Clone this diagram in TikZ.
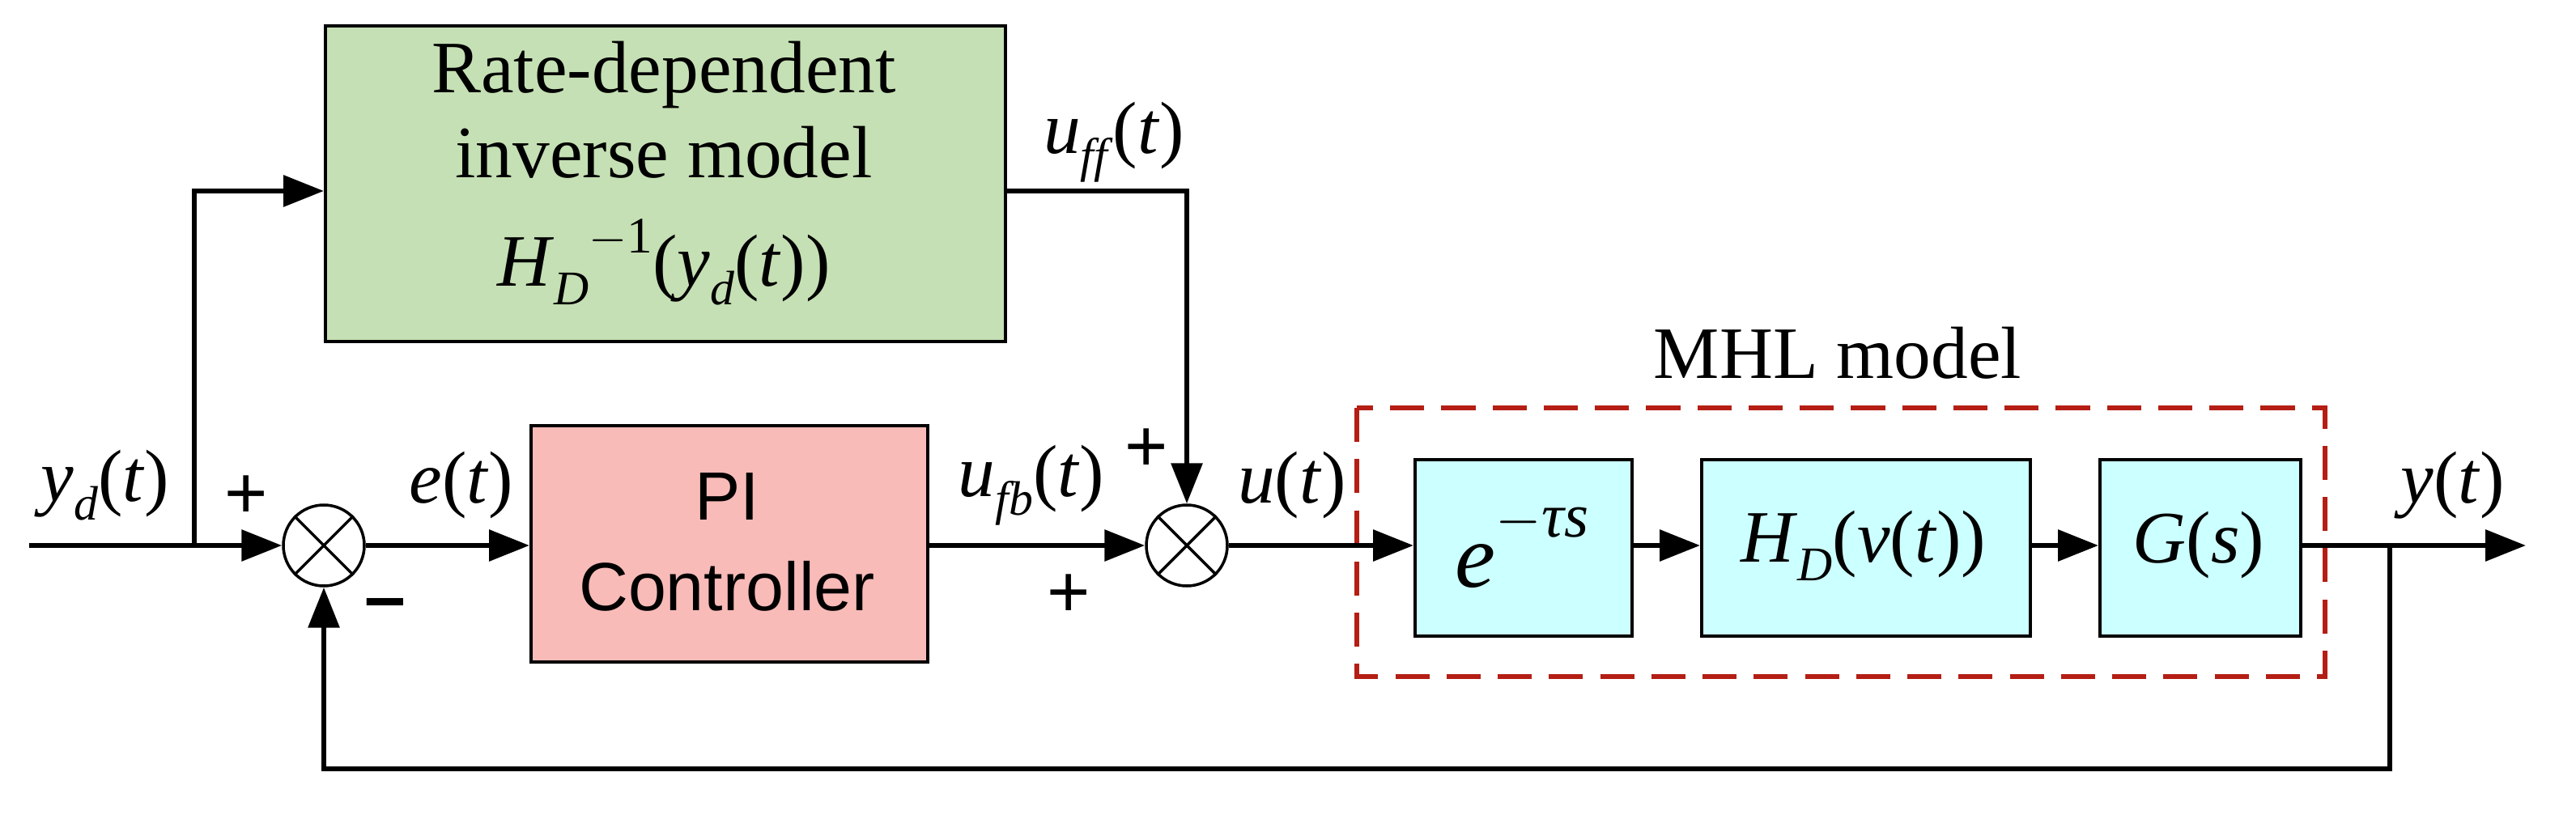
\documentclass[tikz,border=0pt]{standalone}
\usepackage{fontspec}
\setmainfont{Liberation Serif}
\newfontfamily\arialf{Liberation Sans}
\usetikzlibrary{arrows.meta}
\definecolor{gbox}{RGB}{197,224,180}
\definecolor{rbox}{RGB}{248,187,184}
\definecolor{cbox}{RGB}{204,255,255}
\definecolor{dred}{RGB}{180,30,20}
\newcommand{\iv}[1]{\textit{#1}}
\newcommand{\sbs}[1]{\raisebox{-0.25em}{\fontsize{17}{17}\selectfont\textit{#1}}}
\begin{document}
\begin{tikzpicture}[x=0.02cm,y=-0.02cm,
  line width=1.8pt,
  arr/.style={-{Triangle[length=0.5cm,width=0.38cm]}},
  blk/.style={draw,line width=1pt,anchor=north west,inner sep=0pt},
  lbl/.style={font=\fontsize{26}{30}\selectfont}]
\useasboundingbox (0,0) rectangle (1591,506);
\node[blk,fill=gbox,minimum width=420*0.02cm,minimum height=195*0.02cm] (inv) at (200,15) {};
\node[lbl,align=center,font=\fontsize{26}{30}\selectfont] at (410,68) {Rate-dependent\\inverse model};
\node[lbl] at (410,162) {\iv{H}\sbs{D}\raisebox{0.45em}{\fontsize{18}{18}\selectfont$-$1}(\iv{y}\sbs{d}(\iv{t}))};
\node[blk,fill=rbox,minimum width=245*0.02cm,minimum height=146*0.02cm] (pi) at (327,262) {};
\node[align=center,font=\arialf\fontsize{24}{32}\selectfont] at (449,335) {PI\\Controller};
\draw[dred,dashed,line width=1.5pt,dash pattern=on 12pt off 6pt] (838,252) rectangle (1436,418);
\node[lbl] at (1135,218) {MHL model};
\node[blk,fill=cbox,minimum width=134*0.02cm,minimum height=109*0.02cm] (d) at (873,283) {};
\node[font=\fontsize{32}{34}\selectfont] at (940,337) {\iv{e}\raisebox{0.55em}{\fontsize{22}{22}\selectfont$-$\iv{τs}}};
\node[blk,fill=cbox,minimum width=203*0.02cm,minimum height=109*0.02cm] (h) at (1050,283) {};
\node[lbl] at (1151,337) {\iv{H}\sbs{D}(\iv{v}(\iv{t}))};
\node[blk,fill=cbox,minimum width=124*0.02cm,minimum height=109*0.02cm] (g) at (1296,283) {};
\node[lbl] at (1358,337) {\iv{G}(\iv{s})};
\node[draw,circle,line width=1pt,minimum size=50*0.02cm,inner sep=0pt] (s1) at (200,337) {};
\node[draw,circle,line width=1pt,minimum size=50*0.02cm,inner sep=0pt] (s2) at (733,337) {};
\foreach \s in {s1,s2}{\draw[line width=1pt] (\s.45)--(\s.225) (\s.135)--(\s.315);}
\coordinate (in) at (18,337);
\coordinate (br) at (120,337);
\coordinate (out) at (1560,337);
\coordinate (fb) at (1476,337);
\draw (in) -- (br);
\draw[arr] (br) -- (s1.west);
\draw[arr] (br) |- (inv.west |- 0,118);
\draw[arr] (inv.east |- 0,118) -| (s2.north);
\draw[arr] (s1.east) -- (pi.west |- s1);
\draw[arr] (pi.east |- s2) -- (s2.west);
\draw[arr] (s2.east) -- (d.west |- s2);
\draw[arr] (d.east |- s2) -- (h.west |- s2);
\draw[arr] (h.east |- s2) -- (g.west |- s2);
\draw[arr] (g.east |- s2) -- (out);
\draw[arr] (fb) |- (1000,475) -| (s1.south);
\node[lbl] at (65,300) {\iv{y}\sbs{d}(\iv{t})};
\node[lbl,font=\arialf\fontsize{26}{30}\selectfont] at (152,307) {+};
\node[lbl,font=\arialf\bfseries\fontsize{26}{30}\selectfont] at (238,377) {–};
\node[lbl] at (285,300) {\iv{e}(\iv{t})};
\node[lbl] at (637,300) {\iv{u}\sbs{fb}(\iv{t})};
\node[lbl,font=\arialf\fontsize{26}{30}\selectfont] at (708,278) {+};
\node[lbl,font=\arialf\fontsize{26}{30}\selectfont] at (660,368) {+};
\node[lbl] at (798,300) {\iv{u}(\iv{t})};
\node[lbl] at (688,88) {\iv{u}\sbs{ff}(\iv{t})};
\node[lbl] at (1515,300) {\iv{y}(\iv{t})};
\end{tikzpicture}
\end{document}
